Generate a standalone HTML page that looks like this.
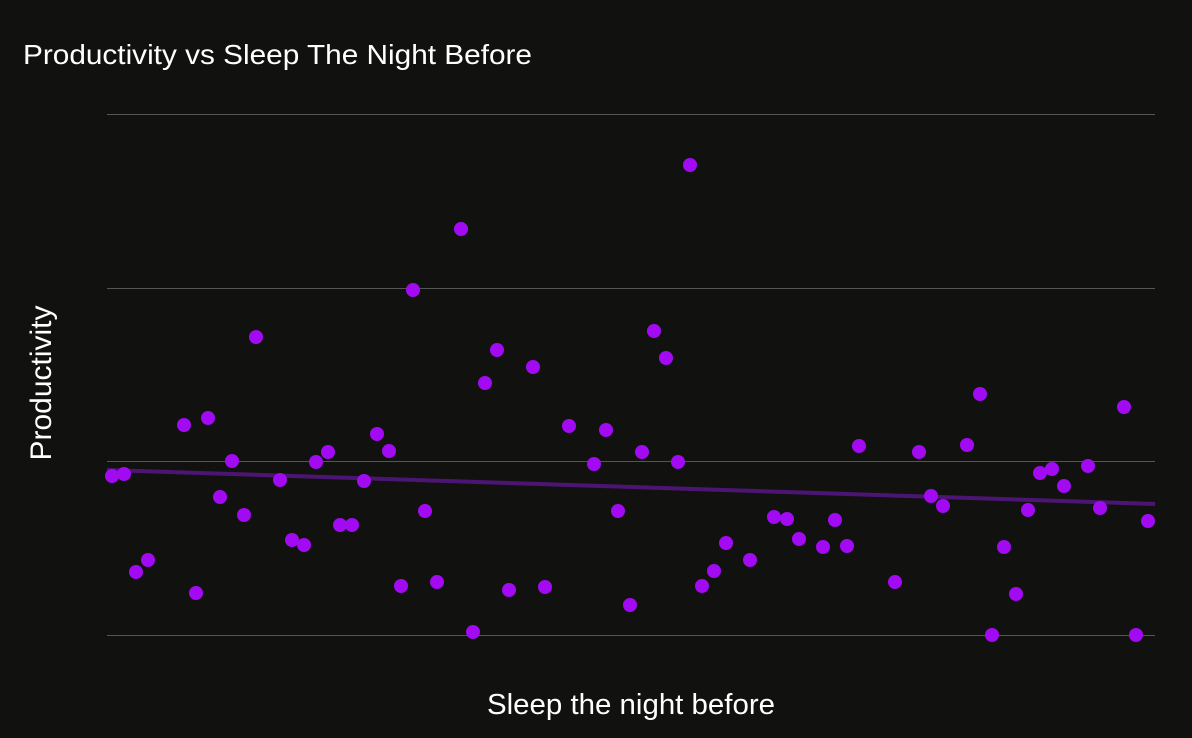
<!DOCTYPE html>
<html><head><meta charset="utf-8"><style>
html,body{margin:0;padding:0;background:#111210;}
svg{display:block}
text{font-family:"Liberation Sans",sans-serif;fill:#fff}
</style></head><body>
<svg width="1192" height="738" viewBox="0 0 1192 738">
<rect width="1192" height="738" fill="#111210"/>
<text x="23" y="64" font-size="28" textLength="509" lengthAdjust="spacingAndGlyphs">Productivity vs Sleep The Night Before</text>
<g stroke="#555" stroke-width="1">
<line x1="107" y1="114.5" x2="1155" y2="114.5"/>
<line x1="107" y1="288.5" x2="1155" y2="288.5"/>
<line x1="107" y1="461.5" x2="1155" y2="461.5"/>
<line x1="107" y1="635.5" x2="1155" y2="635.5"/>
</g>
<line x1="107" y1="470" x2="1155" y2="504" stroke="#4d1573" stroke-width="4"/>
<g fill="#a20af2">
<circle cx="112" cy="476" r="7"/><circle cx="124" cy="474" r="7"/><circle cx="136" cy="572" r="7"/><circle cx="148" cy="560" r="7"/><circle cx="184" cy="425" r="7"/><circle cx="196" cy="593" r="7"/><circle cx="208" cy="418" r="7"/><circle cx="220" cy="497" r="7"/><circle cx="232" cy="461" r="7"/><circle cx="244" cy="515" r="7"/><circle cx="256" cy="337" r="7"/><circle cx="280" cy="480" r="7"/><circle cx="292" cy="540" r="7"/><circle cx="304" cy="545" r="7"/><circle cx="316" cy="462" r="7"/><circle cx="328" cy="452" r="7"/><circle cx="340" cy="525" r="7"/><circle cx="352" cy="525" r="7"/><circle cx="364" cy="481" r="7"/><circle cx="377" cy="434" r="7"/><circle cx="389" cy="451" r="7"/><circle cx="401" cy="586" r="7"/><circle cx="413" cy="290" r="7"/><circle cx="425" cy="511" r="7"/><circle cx="437" cy="582" r="7"/><circle cx="461" cy="229" r="7"/><circle cx="473" cy="632" r="7"/><circle cx="485" cy="383" r="7"/><circle cx="497" cy="350" r="7"/><circle cx="509" cy="590" r="7"/><circle cx="533" cy="367" r="7"/><circle cx="545" cy="587" r="7"/><circle cx="569" cy="426" r="7"/><circle cx="594" cy="464" r="7"/><circle cx="606" cy="430" r="7"/><circle cx="618" cy="511" r="7"/><circle cx="630" cy="605" r="7"/><circle cx="642" cy="452" r="7"/><circle cx="654" cy="331" r="7"/><circle cx="666" cy="358" r="7"/><circle cx="678" cy="462" r="7"/><circle cx="690" cy="165" r="7"/><circle cx="702" cy="586" r="7"/><circle cx="714" cy="571" r="7"/><circle cx="726" cy="543" r="7"/><circle cx="750" cy="560" r="7"/><circle cx="774" cy="517" r="7"/><circle cx="787" cy="519" r="7"/><circle cx="799" cy="539" r="7"/><circle cx="823" cy="547" r="7"/><circle cx="835" cy="520" r="7"/><circle cx="847" cy="546" r="7"/><circle cx="859" cy="446" r="7"/><circle cx="895" cy="582" r="7"/><circle cx="919" cy="452" r="7"/><circle cx="931" cy="496" r="7"/><circle cx="943" cy="506" r="7"/><circle cx="967" cy="445" r="7"/><circle cx="980" cy="394" r="7"/><circle cx="992" cy="635" r="7"/><circle cx="1004" cy="547" r="7"/><circle cx="1016" cy="594" r="7"/><circle cx="1028" cy="510" r="7"/><circle cx="1040" cy="473" r="7"/><circle cx="1052" cy="469" r="7"/><circle cx="1064" cy="486" r="7"/><circle cx="1088" cy="466" r="7"/><circle cx="1100" cy="508" r="7"/><circle cx="1124" cy="407" r="7"/><circle cx="1136" cy="635" r="7"/><circle cx="1148" cy="521" r="7"/>
</g>
<text x="487" y="714" font-size="29" textLength="288" lengthAdjust="spacingAndGlyphs">Sleep the night before</text>
<text transform="translate(51,383) rotate(-90)" font-size="30" text-anchor="middle">Productivity</text>
</svg>
</body></html>
